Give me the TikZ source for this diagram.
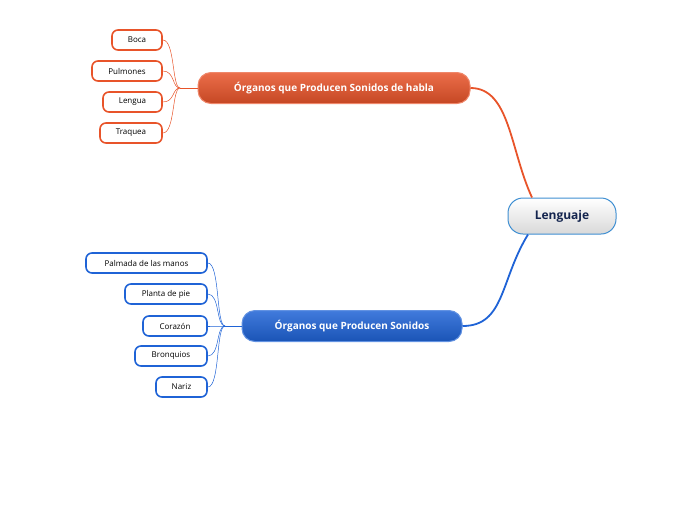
\documentclass[tikz,border=0pt]{standalone}
\usepackage{fontspec}
\setmainfont{Open Sans}
\definecolor{org}{HTML}{E8542A}
\definecolor{orgd}{HTML}{D4461C}
\definecolor{blu}{HTML}{1F63D6}
\definecolor{blud}{HTML}{1553C0}
\definecolor{navy}{HTML}{14254F}
\definecolor{cb}{HTML}{3F8FD2}
\begin{document}
\begin{tikzpicture}[x=1pt,y=-1pt,
 leaf/.style={draw=#1,line width=1.6pt,fill=white,rounded corners=6pt,minimum height=20pt,font=\fontsize{8}{9}\selectfont,inner sep=0pt},
 mainn/.style={draw=#1!70!white,line width=1pt,top color=#1!85!white,bottom color=#1!85!black,rounded corners=13pt,minimum height=31pt,text=white,font=\bfseries\fontsize{10}{12}\selectfont,inner sep=0pt},
 lk/.style={draw=#1,line width=0.5pt},
 ]
\useasboundingbox (0,0) rectangle (696,520);
\node[draw=cb,line width=1pt,top color=white,bottom color=black!15,rounded corners=15pt,minimum width=108pt,minimum height=36pt,text=navy,font=\bfseries\fontsize{12}{14}\selectfont] (L) at (562,216) {Lenguaje};
\node[mainn=org,minimum width=272pt] (O) at (334,88) {Órganos que Producen Sonidos de habla};
\node[mainn=blu,minimum width=220pt] (B) at (352,326) {Órganos que Producen Sonidos};
\node[leaf=org,minimum width=50pt] (o1) at (137,40) {Boca};
\node[leaf=org,minimum width=70pt] (o2) at (127,71) {Pulmones};
\node[leaf=org,minimum width=59pt] (o3) at (132.5,102) {Lengua};
\node[leaf=org,minimum width=62pt] (o4) at (131,133) {Traquea};
\node[leaf=blu,minimum width=121pt] (b1) at (146.5,263) {Palmada de las manos};
\node[leaf=blu,minimum width=82pt] (b2) at (166,294) {Planta de pie};
\node[leaf=blu,minimum width=64pt] (b3) at (175,326) {Corazón};
\node[leaf=blu,minimum width=72pt] (b4) at (171,356) {Bronquios};
\node[leaf=blu,minimum width=51pt] (b5) at (181.5,387) {Nariz};
\draw[org,line width=1.8pt] ([xshift=-30pt]L.north) .. controls (510,150) and (510,88) .. (O.east);
\draw[blu,line width=1.8pt] ([xshift=-34pt]L.south) .. controls (500,280) and (505,326) .. (B.east);
\coordinate (jo) at (180,88);
\coordinate (jb) at (225,326);
\draw[org,line width=0.5pt] (O.west) -- (jo);
\draw[blu,line width=0.5pt] (B.west) -- (jb);
\foreach \n in {o1,o2,o3,o4}{\draw[org,line width=0.5pt] (jo) .. controls (172,88) and (175,0|-\n.east) .. (\n.east);}
\foreach \n in {b1,b2,b3,b4,b5}{\draw[blu,line width=0.5pt] (jb) .. controls (216,326) and (220,0|-\n.east) .. (\n.east);}
\end{tikzpicture}
\end{document}
